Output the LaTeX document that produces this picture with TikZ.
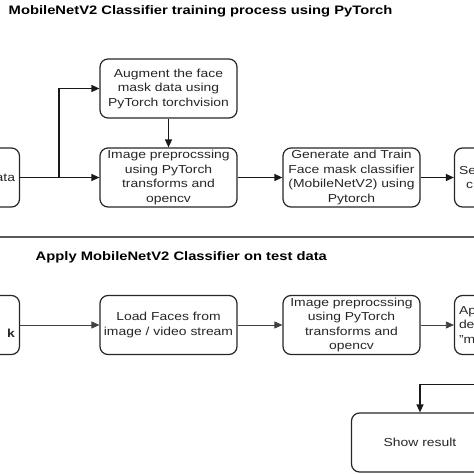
\documentclass[tikz,border=0pt]{standalone}
\usepackage{fontspec}
\setmainfont{Liberation Sans}[FakeStretch=1.2]
\usetikzlibrary{arrows.meta}
\begin{document}
\begin{tikzpicture}[x=1pt,y=-1pt,thick,
  box/.style={draw=black!85,line width=1.2pt,rounded corners=8pt,minimum width=137pt,
    minimum height=59pt,align=center,text=black!85,inner xsep=2pt,inner ysep=0pt,
    font=\fontsize{11.6}{14.5}\selectfont},
  arr/.style={-{Triangle[length=8pt,width=7pt]},line width=1.2pt,draw=black!90},
  arrthin/.style={-{Triangle[length=8pt,width=7pt]},line width=0.7pt,draw=black!75},
  heading/.style={anchor=west,font=\fontsize{12.3}{14}\selectfont\bfseries}]
  \useasboundingbox (0,0) rectangle (474,474);
  % training
  %labels
  \node[heading,at={(5,11)}] (title1) {MobileNetV2 Classifier training process using PyTorch};
  %boxes
  \node[box,at={(-49,177.5)},text width=128pt,align=right,inner xsep=4.5pt] (data) {ata};
  \node[box,at={(168.5,88.5)}] (aug) {Augment the face\\mask data using\\PyTorch torchvision};
  \node[box,at={(168.5,177.5)}] (prep) {Image preprocssing\\using PyTorch\\transforms and\\opencv};
  \node[box,at={(351.5,177.5)}] (train) {Generate and Train\\Face mask classifier\\(MobileNetV2) using\\Pytorch};
  \node[box,at={(523,177.5)},text width=128pt,align=left,inner xsep=4.5pt] (select) {Se\\\hspace*{7pt}c};
  %arrows
  \coordinate (fork) at (59,177.5);
  \draw[arr] (data.east) -- (prep.west);
  \draw[arr] (fork) |- (aug.west);
  \draw[arr] (aug.south) -- (prep.north);
  \draw[arr] (prep.east) -- (train.west);
  \draw[arr] (train.east) -- (select.west);

  % separator
  \draw[line width=2pt,black!65] (0,237) -- (474,237);

  % test
  %labels
  \node[heading,at={(32,257.5)}] (title2) {Apply MobileNetV2 Classifier on test data};
  %boxes
  \node[box,at={(-49,325)},text width=128pt,align=right,inner xsep=4.5pt] (net) {\strut\\\textbf{k}};
  \node[box,at={(168.5,325)}] (load) {Load Faces from\\image / video stream};
  \node[box,at={(351.5,325)}] (prep2) {Image preprocssing\\using PyTorch\\transforms and\\opencv};
  \node[box,at={(523,325)},text width=128pt,align=left,inner xsep=4.5pt] (apply) {Ap\\de\\"m};
  \node[box,at={(420,442.5)}] (show) {Show result};
  %arrows
  \draw[arrthin] (net.east) -- (load.west);
  \draw[arrthin] (load.east) -- (prep2.west);
  \draw[arrthin] (prep2.east) -- (apply.west);
  \draw[arr] (apply.south) -- ++(0,29.5) -| (show.north);
\end{tikzpicture}
\end{document}
